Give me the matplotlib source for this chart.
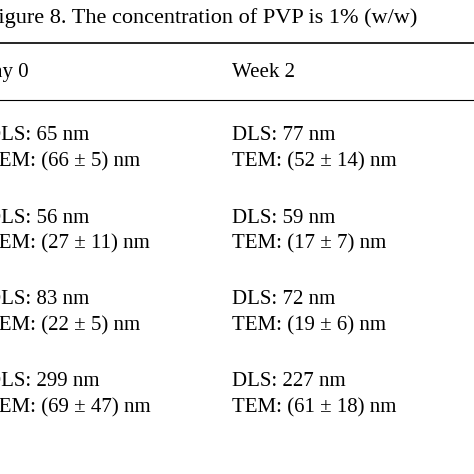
import matplotlib.pyplot as plt

plt.rcParams['font.family'] = ['Liberation Serif', 'DejaVu Serif']

title = "Figure 8. The concentration of PVP is 1% (w/w)"
headers = ["Day 0", "Week 2"]
dls_day0 = [65, 56, 83, 299]
tem_day0 = ["(66 ± 5)", "(27 ± 11)", "(22 ± 5)", "(69 ± 47)"]
dls_week2 = [77, 59, 72, 227]
tem_week2 = ["(52 ± 14)", "(17 ± 7)", "(19 ± 6)", "(61 ± 18)"]

fig = plt.figure(figsize=(4.74, 4.74), dpi=100)
ax = fig.add_axes([0, 0, 1, 1])
ax.set_xlim(0, 474)
ax.set_ylim(474, 0)
ax.axis('off')

fs = 15
ax.text(-14, 18, title, fontsize=16, va='center', ha='left')
ax.axhline(43, color='black', lw=1.2)
ax.text(-22, 72, headers[0], fontsize=fs, va='center')
ax.text(232, 72, headers[1], fontsize=fs, va='center')
ax.axhline(100, color='black', lw=0.8)

for i in range(4):
    y = 136 + i * 82
    ax.text(-14, y, f"DLS: {dls_day0[i]} nm", fontsize=fs, va='center')
    ax.text(-14, y + 26, f"TEM: {tem_day0[i]} nm", fontsize=fs, va='center')
    ax.text(232, y, f"DLS: {dls_week2[i]} nm", fontsize=fs, va='center')
    ax.text(232, y + 26, f"TEM: {tem_week2[i]} nm", fontsize=fs, va='center')

fig.savefig("out.png", dpi=100)
